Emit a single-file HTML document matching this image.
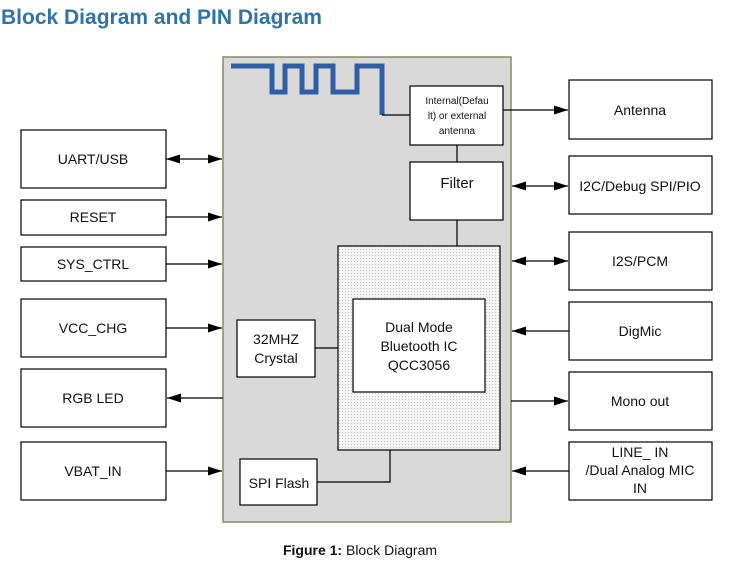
<!DOCTYPE html>
<html><head><meta charset="utf-8"><style>
html,body{margin:0;padding:0;background:#fff;}
svg{display:block;}
text{font-family:"Liberation Sans",sans-serif;}
</style></head><body>
<svg width="731" height="582" viewBox="0 0 731 582" xmlns="http://www.w3.org/2000/svg">
<defs>
<marker id="a" markerWidth="14" markerHeight="10" refX="14" refY="5" orient="auto" markerUnits="userSpaceOnUse"><path d="M0,0.5 L14,5 L0,9.5 z" fill="#000"/></marker>
<marker id="s" markerWidth="14" markerHeight="10" refX="0" refY="5" orient="auto" markerUnits="userSpaceOnUse"><path d="M14,0.5 L0,5 L14,9.5 z" fill="#000"/></marker>
<pattern id="dots" width="3" height="3" patternUnits="userSpaceOnUse"><rect width="3" height="3" fill="#f4f4f4"/><rect width="1" height="1" fill="#c8c8c8"/></pattern>
</defs>
<text x="1" y="24" font-size="21" font-weight="bold" fill="#2e74a5">Block Diagram and PIN Diagram</text>
<rect x="223" y="57" width="288" height="465" fill="#d9d9d9" stroke="#8a8a60" stroke-width="1.5"/>
<path d="M231,66 H272 V92 H285 V66 H302 V92 H316 V66 H333 V92 H357 V66 H382 V115" fill="none" stroke="#2e5ea8" stroke-width="5"/>
<path d="M382,115 H410" stroke="#000" stroke-width="1.2"/>
<g fill="#fff" stroke="#000" stroke-width="1.2">
<rect x="410" y="86" width="93" height="59"/>
<rect x="410" y="162" width="93" height="58"/>
<rect x="338" y="246" width="162" height="204" fill="url(#dots)"/>
<rect x="353" y="299" width="132" height="93"/>
<rect x="237" y="320" width="78" height="57"/>
<rect x="240" y="459" width="77" height="46"/>
<rect x="21" y="130" width="145" height="58"/>
<rect x="21" y="200" width="145" height="35"/>
<rect x="21" y="247" width="145" height="34"/>
<rect x="21" y="299" width="145" height="58"/>
<rect x="21" y="369" width="145" height="58"/>
<rect x="21" y="442" width="145" height="58"/>
<rect x="569" y="80" width="143" height="59"/>
<rect x="569" y="156" width="143" height="58"/>
<rect x="569" y="232" width="143" height="58"/>
<rect x="569" y="302" width="143" height="58"/>
<rect x="569" y="372" width="143" height="58"/>
<rect x="569" y="442" width="143" height="58"/>
</g>
<g stroke="#000" stroke-width="1.2" fill="none">
<path d="M457,145 V162 M457,220 V246 M315,348 H338 M390,450 V482 H317"/>
<path d="M166,159 H222" marker-start="url(#s)" marker-end="url(#a)"/>
<path d="M166,217 H222" marker-end="url(#a)"/>
<path d="M166,264 H222" marker-end="url(#a)"/>
<path d="M166,328 H222" marker-end="url(#a)"/>
<path d="M223,398 H167" marker-end="url(#a)"/>
<path d="M166,471 H222" marker-end="url(#a)"/>
<path d="M503,110 H568" marker-end="url(#a)"/>
<path d="M512,186 H568" marker-start="url(#s)" marker-end="url(#a)"/>
<path d="M512,261 H568" marker-start="url(#s)" marker-end="url(#a)"/>
<path d="M569,331 H512" marker-end="url(#a)"/>
<path d="M511,401 H568" marker-end="url(#a)"/>
<path d="M569,471 H512" marker-end="url(#a)"/>
</g>
<g font-size="14" text-anchor="middle" fill="#111">
<text x="93" y="164">UART/USB</text>
<text x="93" y="222">RESET</text>
<text x="93" y="269">SYS_CTRL</text>
<text x="93" y="333">VCC_CHG</text>
<text x="93" y="403">RGB LED</text>
<text x="93" y="476">VBAT_IN</text>
<text x="640" y="115">Antenna</text>
<text x="640" y="191">I2C/Debug SPI/PIO</text>
<text x="640" y="266">I2S/PCM</text>
<text x="640" y="336">DigMic</text>
<text x="640" y="406">Mono out</text>
<text x="640" y="457">LINE_ IN</text>
<text x="640" y="475">/Dual Analog MIC</text>
<text x="640" y="493">IN</text>
<text x="457" y="188" font-size="15">Filter</text>
<text x="276" y="344">32MHZ</text>
<text x="276" y="363">Crystal</text>
<text x="419" y="332">Dual Mode</text>
<text x="419" y="351">Bluetooth IC</text>
<text x="419" y="370">QCC3056</text>
<text x="279" y="488">SPI Flash</text>
</g>
<g font-size="10" text-anchor="middle" fill="#111">
<text x="457" y="104">Internal(Defau</text>
<text x="457" y="119">lt) or external</text>
<text x="457" y="134">antenna</text>
</g>
<text x="360" y="555" font-size="14" text-anchor="middle" fill="#111"><tspan font-weight="bold">Figure 1:</tspan> Block Diagram</text>
</svg>
</body></html>
